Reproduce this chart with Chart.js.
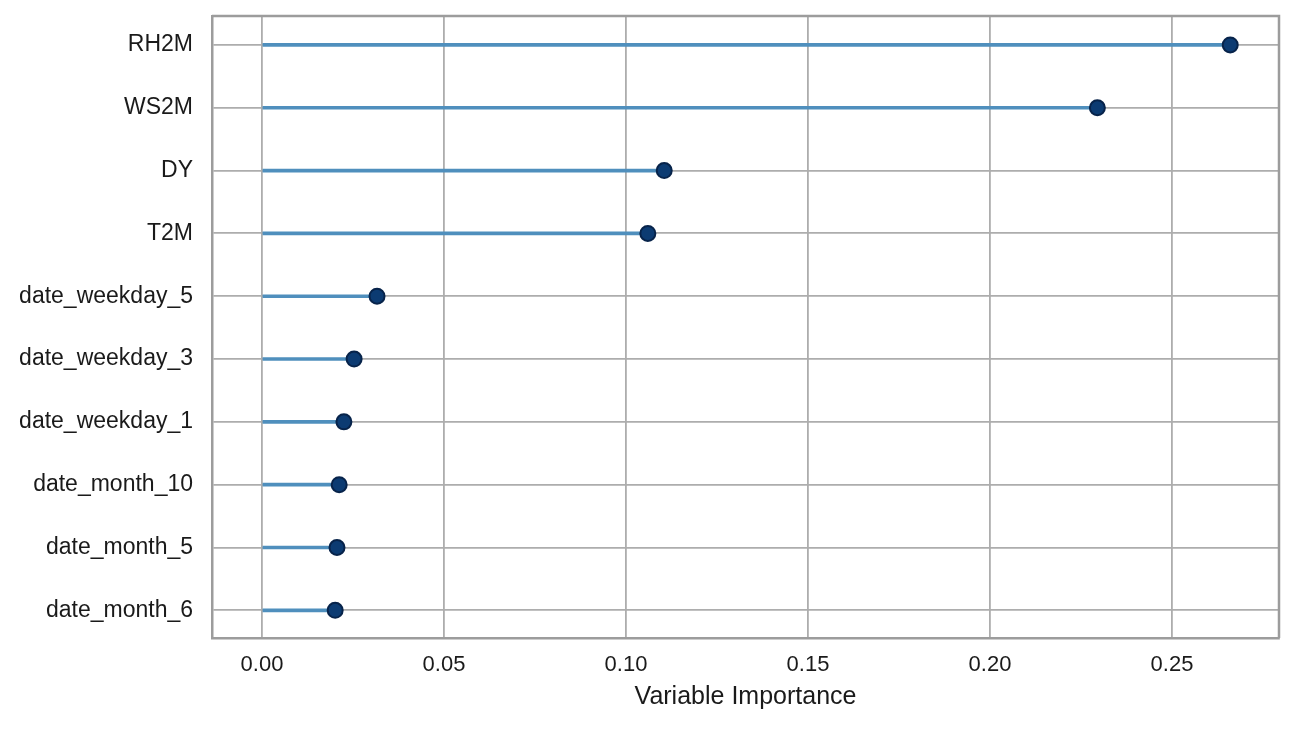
<!DOCTYPE html>
<html>
<head>
<meta charset="utf-8">
<script src="https://cdn.jsdelivr.net/npm/chart.js@4.4.1/dist/chart.umd.min.js"></script>
<style>
  html, body { margin: 0; padding: 0; background: #fff; }
  #wrap { width: 1298px; height: 734px; }
</style>
</head>
<body>
<div id="wrap"><canvas id="importanceChart"></canvas></div>
<script>
// feature names, top to bottom
const features = ['RH2M', 'WS2M', 'DY', 'T2M', 'date_weekday_5', 'date_weekday_3',
    'date_weekday_1', 'date_month_10', 'date_month_5', 'date_month_6'];

// importance values
const importance = [0.266, 0.2295, 0.1105, 0.106, 0.0316, 0.0253, 0.0225, 0.0212, 0.0206, 0.0201];

const xTicks = [0.00, 0.05, 0.10, 0.15, 0.20, 0.25];

document.addEventListener('DOMContentLoaded', function () {
    const ctx = document.getElementById('importanceChart').getContext('2d');

    const points = importance.map((v, i) => ({ x: v, y: i }));
    const gridColor = '#adadad';
    const frameColor = '#9c9c9c';
    const fontFamily = 'Liberation Sans, Arial, sans-serif';

    // draws the closing frame on top and right of the plot area
    const frame = {
        id: 'frame',
        afterDraw(chart) {
            const { ctx, chartArea: a } = chart;
            ctx.save();
            ctx.strokeStyle = frameColor;
            ctx.lineWidth = 2.5;
            ctx.beginPath();
            ctx.moveTo(a.left, a.top);
            ctx.lineTo(a.right, a.top);
            ctx.lineTo(a.right, a.bottom);
            ctx.stroke();
            ctx.restore();
        }
    };

    new Chart(ctx, {
        type: 'bar',
        data: {
            datasets: [
                {
                    // stems
                    label: 'stem',
                    data: points,
                    backgroundColor: '#4f8fbd',
                    borderWidth: 0,
                    barThickness: 3,
                    order: 2
                },
                {
                    // dots
                    type: 'scatter',
                    label: 'dot',
                    data: points,
                    pointRadius: 7.5,
                    pointHoverRadius: 7.5,
                    pointBackgroundColor: '#0c3b72',
                    pointBorderColor: '#07234a',
                    pointBorderWidth: 2,
                    order: 1
                }
            ]
        },
        plugins: [frame],
        options: {
            indexAxis: 'y',
            responsive: true,
            maintainAspectRatio: false,
            animation: false,
            layout: { padding: { top: 16, right: 19, left: 0, bottom: 0 } },
            plugins: {
                legend: { display: false },
                tooltip: { enabled: false }
            },
            scales: {
                x: {
                    type: 'linear',
                    min: -0.01374,
                    max: 0.2794,
                    afterBuildTicks: function (scale) {
                        scale.ticks = xTicks.map(v => ({ value: v }));
                    },
                    ticks: {
                        padding: 14,
                        color: '#1a1a1a',
                        font: { family: fontFamily, size: 22 },
                        callback: v => v.toFixed(2)
                    },
                    grid: { color: gridColor, lineWidth: 1.8, drawTicks: false },
                    border: { color: frameColor, width: 2.5 },
                    title: {
                        display: true,
                        text: 'Variable Importance',
                        color: '#1a1a1a',
                        font: { family: fontFamily, size: 25 },
                        padding: { top: 0, bottom: 22 }
                    },
                    afterFit: function (scale) {
                        scale.height = 96;
                        scale.paddingLeft = 0;
                        scale.paddingRight = 0;
                    }
                },
                y: {
                    type: 'linear',
                    reverse: true,
                    offset: false,
                    min: -0.46,
                    max: 9.44,
                    afterBuildTicks: function (scale) {
                        scale.ticks = features.map((f, i) => ({ value: i }));
                    },
                    ticks: {
                        padding: 19,
                        color: '#1a1a1a',
                        font: { family: fontFamily, size: 23 },
                        callback: v => features[v]
                    },
                    grid: { color: gridColor, lineWidth: 1.8, drawTicks: false, offset: false },
                    border: { color: frameColor, width: 2.5 },
                    afterFit: function (scale) {
                        scale.width = 212;
                        scale.paddingTop = 0;
                        scale.paddingBottom = 0;
                    }
                }
            }
        }
    });
});
</script>
</body>
</html>
